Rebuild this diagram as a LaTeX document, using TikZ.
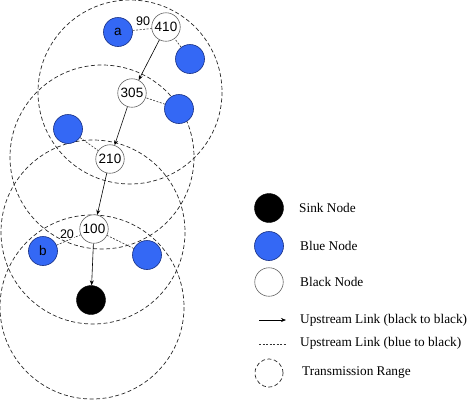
\documentclass[tikz,border=0pt]{standalone}
\usepackage{fontspec}
\setmainfont{Liberation Serif}
\newfontfamily\arialf{Liberation Sans}
\usetikzlibrary{arrows.meta}
\definecolor{nblue}{RGB}{52,104,245}
\definecolor{nblueedge}{RGB}{20,45,130}
\begin{document}
\begin{tikzpicture}[x=1pt,y=-1pt,
  bluenode/.style={circle,fill=nblue,draw=nblueedge,line width=0.6pt,minimum size=29pt,inner sep=0pt,font=\arialf\fontsize{13.5}{13.5}\selectfont},
  whitenode/.style={circle,fill=white,draw=black!60,line width=0.6pt,minimum size=28.5pt,inner sep=0pt,font=\arialf\fontsize{13.5}{13.5}\selectfont},
  sinknode/.style={circle,fill=black,draw=black,minimum size=29pt,inner sep=0pt},
  txrange/.style={draw=black!85,line width=0.7pt,dash pattern=on 4pt off 2.5pt},
  uplink/.style={draw=black,line width=0.6pt,-{Stealth[length=5pt,width=4pt]}},
  bluelink/.style={draw=black!80,line width=0.6pt,dash pattern=on 2pt off 1.5pt},
  lbl/.style={font=\arialf\fontsize{12.5}{12.5}\selectfont,inner sep=0pt},
  legtext/.style={anchor=west,font=\fontsize{13.3}{14}\selectfont,inner sep=0pt}]
\useasboundingbox (0,0) rectangle (474,400);
% transmission ranges
\draw[txrange] (130,92) circle (92);
\draw[txrange] (102,157) circle (92);
\draw[txrange] (93,232) circle (92);
\draw[txrange] (92,307) circle (92);
% nodes
\node[whitenode] (n410) at (166,27) {410};
\node[bluenode] (a) at (118,32) {a};
\node[bluenode] (b1) at (190,59) {};
\node[whitenode] (n305) at (132,93) {305};
\node[bluenode] (b2) at (179,109) {};
\node[bluenode] (b3) at (68,129) {};
\node[whitenode] (n210) at (110,159) {210};
\node[whitenode] (n100) at (94,229) {100};
\node[bluenode] (b) at (43,251) {b};
\node[bluenode] (b4) at (147,255) {};
\node[sinknode] (sink) at (91,300) {};
% links
\draw[uplink] (n410) -- (n305);
\draw[uplink] (n305) -- (n210);
\draw[uplink] (n210) -- (n100);
\draw[uplink] (n100) -- (sink);
\draw[bluelink] (a) -- (n410);
\draw[bluelink] (b1) -- (n410);
\draw[bluelink] (b2) -- (n305);
\draw[bluelink] (b3) -- (n210);
\draw[bluelink] (b) -- (n100);
\draw[bluelink] (b4) -- (n100);
\node[lbl,fill=white,inner sep=0.5pt] (l90) at (143,21) {90};
\node[lbl,fill=white,inner sep=0.5pt] (l20) at (67,234) {20};
% legend
\node[sinknode] (lsink) at (269,208) {};
\node[bluenode] (lblue) at (269,246) {};
\node[whitenode] (lwhite) at (269,282) {};
\coordinate (la1) at (259,320);
\coordinate (la2) at (286,320);
\draw[uplink] (la1) -- (la2);
\coordinate (ld1) at (259,344);
\coordinate (ld2) at (286,344);
\draw[bluelink] (ld1) -- (ld2);
\node[circle,minimum size=28pt,txrange] (lrange) at (269,373) {};
\node[legtext] (t1) at (299,208) {Sink Node};
\node[legtext] (t2) at (300,246) {Blue Node};
\node[legtext] (t3) at (300,282) {Black Node};
\node[legtext] (t4) at (300,320) {Upstream Link (black to black)};
\node[legtext] (t5) at (300,343) {Upstream Link (blue to black)};
\node[legtext] (t6) at (302,373) {Transmission Range};
\end{tikzpicture}
\end{document}
